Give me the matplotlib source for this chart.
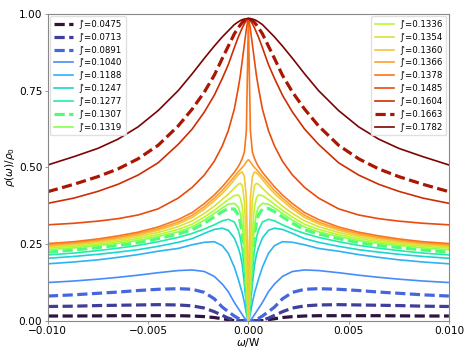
import numpy as np
import matplotlib
matplotlib.use('Agg')
import matplotlib.pyplot as plt

# omega/W sample points (right half; the curves are symmetric in omega)
omega_half = [0.0, 0.00005, 0.0001, 0.0002, 0.0003, 0.0004, 0.0005, 0.0007,
              0.001, 0.0013, 0.0017, 0.0022, 0.0028, 0.0035, 0.0045, 0.0055,
              0.0065, 0.0075, 0.0087, 0.010]

j_values = ['0.0475', '0.0713', '0.0891', '0.1040', '0.1188', '0.1247',
            '0.1277', '0.1307', '0.1319', '0.1336', '0.1354', '0.1360',
            '0.1366', '0.1378', '0.1485', '0.1604', '0.1663', '0.1782']

# rho(omega)/rho_0, one list per J'
rho_0475 = [0, 0, 0, 0, 0, 0, 0, 0.001, 0.004, 0.007, 0.011, 0.014, 0.016,
            0.017, 0.017, 0.017, 0.017, 0.0165, 0.016, 0.016]
rho_0713 = [0, 0, 0, 0, 0, 0, 0.001, 0.003, 0.009, 0.018, 0.030, 0.042, 0.049,
            0.052, 0.053, 0.052, 0.051, 0.050, 0.048, 0.047]
rho_0891 = [0, 0, 0, 0.001, 0.003, 0.005, 0.008, 0.016, 0.030, 0.045, 0.072,
            0.093, 0.103, 0.105, 0.103, 0.099, 0.094, 0.090, 0.085, 0.081]
rho_1040 = [0, 0.001, 0.003, 0.010, 0.020, 0.030, 0.040, 0.060, 0.095, 0.120,
            0.145, 0.161, 0.166, 0.164, 0.157, 0.149, 0.142, 0.136, 0.130, 0.125]
rho_1188 = [0, 0.010, 0.025, 0.060, 0.090, 0.112, 0.135, 0.175, 0.220, 0.245,
            0.258, 0.256, 0.248, 0.236, 0.227, 0.216, 0.207, 0.199, 0.192, 0.186]
rho_1247 = [0, 0.020, 0.050, 0.120, 0.180, 0.215, 0.237, 0.270, 0.295, 0.302,
            0.298, 0.285, 0.268, 0.256, 0.243, 0.232, 0.224, 0.217, 0.210, 0.204]
rho_1277 = [0, 0.030, 0.070, 0.160, 0.230, 0.270, 0.295, 0.322, 0.331, 0.326,
            0.313, 0.299, 0.285, 0.272, 0.258, 0.246, 0.237, 0.229, 0.221, 0.215]
rho_1307 = [0, 0.040, 0.090, 0.200, 0.280, 0.320, 0.345, 0.364, 0.366, 0.356,
            0.339, 0.318, 0.297, 0.283, 0.268, 0.255, 0.246, 0.239, 0.231, 0.224]
rho_1319 = [0, 0.050, 0.110, 0.230, 0.310, 0.350, 0.370, 0.383, 0.380, 0.368,
            0.350, 0.328, 0.306, 0.290, 0.275, 0.262, 0.253, 0.246, 0.238, 0.232]
rho_1336 = [0, 0.070, 0.150, 0.290, 0.370, 0.400, 0.410, 0.408, 0.395, 0.380,
            0.360, 0.338, 0.315, 0.298, 0.281, 0.268, 0.258, 0.250, 0.243, 0.237]
rho_1354 = [0, 0.120, 0.250, 0.390, 0.440, 0.448, 0.445, 0.432, 0.413, 0.396,
            0.374, 0.350, 0.326, 0.307, 0.288, 0.274, 0.263, 0.255, 0.247, 0.241]
rho_1360 = [0, 0.250, 0.400, 0.470, 0.485, 0.482, 0.476, 0.460, 0.436, 0.415,
            0.391, 0.364, 0.337, 0.316, 0.295, 0.279, 0.268, 0.259, 0.251, 0.244]
rho_1366 = [0.525, 0.522, 0.518, 0.508, 0.500, 0.493, 0.486, 0.470, 0.447, 0.425,
            0.400, 0.372, 0.344, 0.322, 0.300, 0.284, 0.272, 0.263, 0.254, 0.248]
rho_1378 = [0.985, 0.800, 0.620, 0.550, 0.530, 0.515, 0.503, 0.484, 0.460, 0.437,
            0.410, 0.382, 0.353, 0.330, 0.306, 0.289, 0.277, 0.267, 0.258, 0.252]
rho_1485 = [0.985, 0.970, 0.950, 0.900, 0.850, 0.800, 0.760, 0.690, 0.620, 0.570,
            0.520, 0.475, 0.435, 0.400, 0.365, 0.345, 0.333, 0.325, 0.318, 0.313]
rho_1604 = [0.985, 0.982, 0.978, 0.968, 0.955, 0.940, 0.925, 0.890, 0.835, 0.790,
            0.735, 0.680, 0.625, 0.575, 0.515, 0.475, 0.445, 0.422, 0.400, 0.383]
rho_1663 = [0.985, 0.984, 0.982, 0.978, 0.972, 0.964, 0.955, 0.935, 0.895, 0.855,
            0.800, 0.745, 0.690, 0.635, 0.572, 0.528, 0.495, 0.470, 0.445, 0.421]
rho_1782 = [0.985, 0.985, 0.984, 0.983, 0.981, 0.978, 0.974, 0.965, 0.945, 0.925,
            0.895, 0.855, 0.805, 0.750, 0.685, 0.632, 0.592, 0.562, 0.535, 0.508]

curves = [rho_0475, rho_0713, rho_0891, rho_1040, rho_1188, rho_1247,
          rho_1277, rho_1307, rho_1319, rho_1336, rho_1354, rho_1360,
          rho_1366, rho_1378, rho_1485, rho_1604, rho_1663, rho_1782]
dashed = ['0.0475', '0.0713', '0.0891', '0.1307', '0.1663']


def mirror(half):
    # full curve from the symmetric half
    return list(reversed(half[1:])) + list(half)


omega = [-w for w in reversed(omega_half[1:])] + omega_half

plt.rcParams['font.family'] = 'DejaVu Sans'
fig = plt.figure(figsize=(4.74, 3.55), dpi=100)
ax = fig.add_axes([0.101, 0.096, 0.846, 0.865])

cmap = plt.get_cmap('turbo')
lines = []
for i, (j, rho) in enumerate(zip(j_values, curves)):
    col = cmap(i / (len(j_values) - 1))
    if j in dashed:
        ln, = ax.plot(omega, mirror(rho), color=col, lw=2.3, ls=(0, (3.2, 1.4)),
                      label="J'=" + j)
    else:
        ln, = ax.plot(omega, mirror(rho), color=col, lw=1.2, label="J'=" + j)
    lines.append(ln)

ax.set_xlim(-0.010, 0.010)
ax.set_ylim(0, 1.0)
ax.set_xticks([-0.010, -0.005, 0.0, 0.005, 0.010])
ax.set_xticklabels(['\u22120.010', '\u22120.005', '0.000', '0.005', '0.010'])
ax.set_yticks([0, 0.25, 0.5, 0.75, 1.0])
ax.set_yticklabels(['0.00', '0.25', '0.50', '0.75', '1.00'])
ax.tick_params(labelsize=7.6, length=2.5, width=0.6, color='#888888', pad=1.5)
for s in ax.spines.values():
    s.set_color('#888888')
    s.set_linewidth(0.8)

ax.set_xlabel(r'$\omega$/W', fontsize=7.6, labelpad=0)
ax.set_ylabel(r'$\rho(\omega)/\rho_0$', fontsize=7.6, labelpad=1)

leg1 = ax.legend(handles=lines[:9], loc='upper left', fontsize=6.2,
                 borderaxespad=0.3, labelspacing=0.45, handlelength=2.2,
                 framealpha=0.9, edgecolor='#dddddd')
ax.add_artist(leg1)
ax.legend(handles=lines[9:], loc='upper right', fontsize=6.2,
          borderaxespad=0.3, labelspacing=0.45, handlelength=2.2,
          framealpha=0.9, edgecolor='#dddddd')

fig.savefig('out.png', dpi=100)
